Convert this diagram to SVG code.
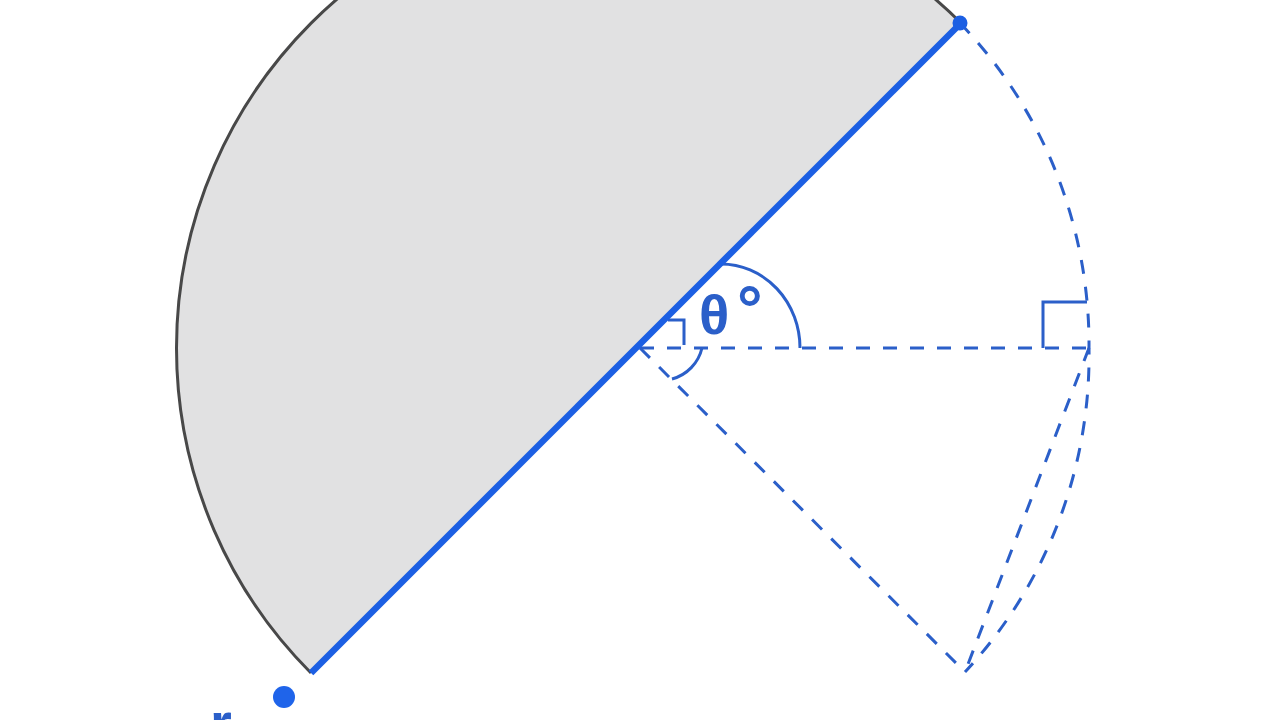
<svg xmlns="http://www.w3.org/2000/svg" width="1280" height="720" viewBox="0 0 1280 720">
  <style>
    .dash { fill: none; stroke: #2b5fc9; stroke-width: 3; stroke-dasharray: 14 13; }
    .mark { fill: none; stroke: #2b5fc9; stroke-width: 3; }
    .lbl { font-family: "Liberation Sans", Arial, sans-serif; fill: #2b5fc9; }
  </style>
  <rect width="1280" height="720" fill="#ffffff"/>
  <g id="sector">
    <path d="M 961 23 A 400 400 0 0 0 311 673 Z" fill="#e1e1e2" stroke="none"/>
    <path d="M 961 23 A 400 400 0 0 0 311 673" fill="none" stroke="#484848" stroke-width="3"/>
  </g>
  <g id="connectors">
    <path class="dash" d="M 960 23 A 453 460 0 0 1 1089 348 A 453 460 0 0 1 965 672"/>
    <path class="dash" d="M 640 348 L 1089 348"/>
    <path class="dash" d="M 640 348 L 965 672"/>
    <path class="dash" d="M 1089 348 L 965 672" stroke-width="2.5"/>
  </g>
  <g id="angle-marks">
    <path class="mark" d="M 1043 348 L 1043 302 L 1087 302"/>
    <path class="mark" d="M 668 320 L 684 320 L 684 345"/>
    <path class="mark" d="M 702 348 A 42 42 0 0 1 672 379"/>
    <path class="mark" d="M 721 264 A 79 84 0 0 1 800 348"/>
  </g>
  <g id="diameter">
    <line x1="311" y1="673" x2="961" y2="23" stroke="#1c5fe3" stroke-width="6.5"/>
    <circle cx="960" cy="23" r="7.5" fill="#1c5fe3"/>
  </g>
  <g id="point-r">
    <circle cx="284" cy="697" r="11" fill="#1f64ea"/>
    <text class="lbl" x="210" y="742" font-size="56" font-weight="bold" fill="#1f5fe0">r</text>
  </g>
  <g id="theta">
    <text class="lbl" x="699" y="334" font-size="56" font-weight="bold">θ</text>
    <text class="lbl" x="737" y="331" font-size="64" font-weight="bold">°</text>
  </g>
</svg>
